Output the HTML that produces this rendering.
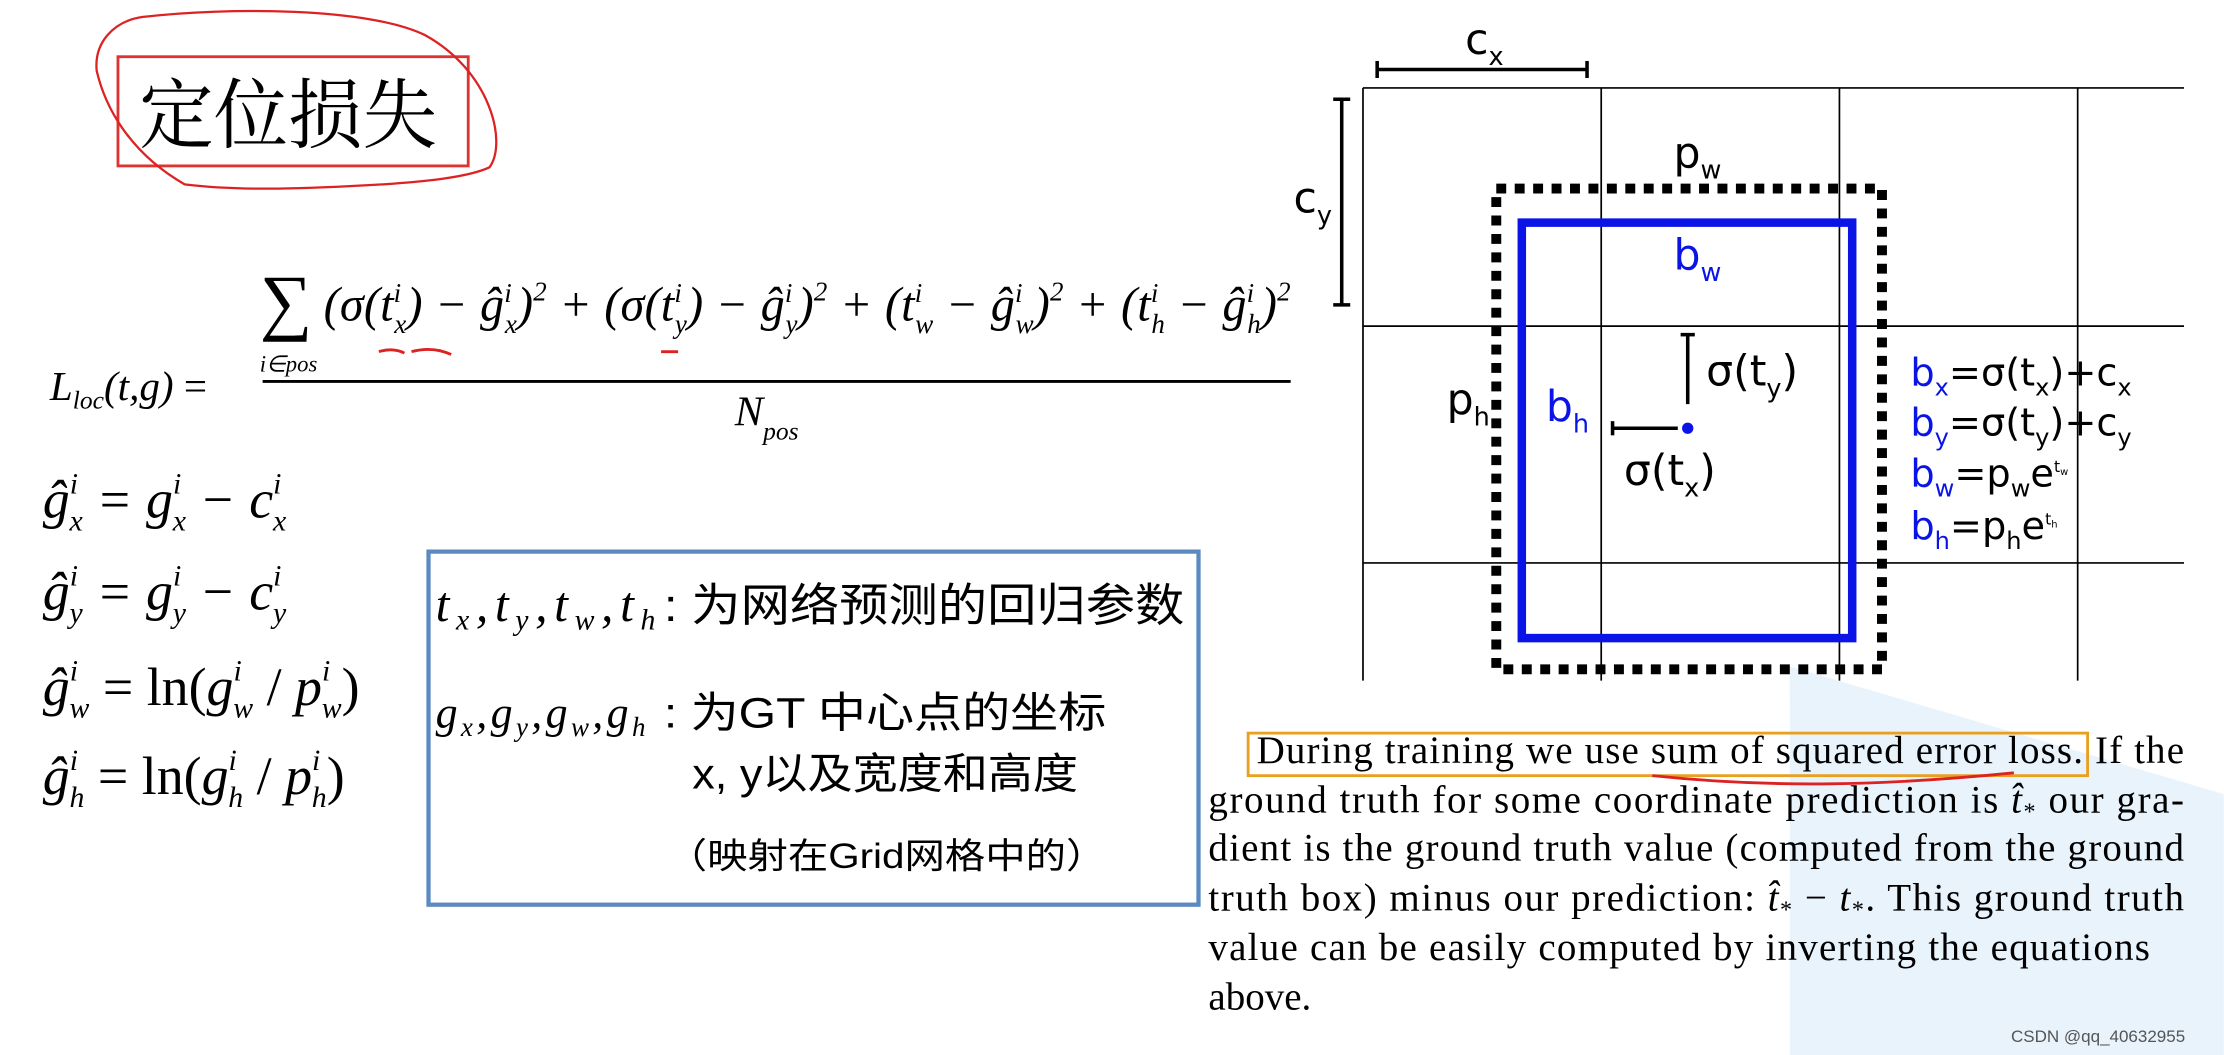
<!DOCTYPE html>
<html><head><meta charset="utf-8"><style>
html,body{margin:0;padding:0;background:#fff;width:2224px;height:1055px;overflow:hidden}
svg{display:block}
.m{font-family:"Liberation Serif",serif;font-style:italic}
.r{font-family:"Liberation Serif",serif}
.d{font-family:"DejaVu Sans",sans-serif}
.c{font-family:"Liberation Sans","Noto Sans CJK SC",sans-serif}
.cs{font-family:"Liberation Serif","Noto Serif CJK SC",serif}
</style></head><body>
<svg width="2224" height="1055" viewBox="0 0 1568 744" xmlns="http://www.w3.org/2000/svg">
<rect width="1568" height="744" fill="#fff"/>
<polygon points="1262,470 1568,560 1568,744 1262,744" fill="#e3f0fb" opacity="0.8"/>
<!-- title -->
<rect x="83" y="40" width="247" height="77" fill="none" stroke="#d33" stroke-width="2"/>
<text x="98" y="100" class="cs" font-size="54" textLength="210" lengthAdjust="spacingAndGlyphs" fill="#000">定位损失</text>
<path d="M100,12 C160,5 260,5 300,25 C345,50 358,100 345,118 C330,125 300,128 270,130 C220,133 170,135 130,130 C95,110 75,80 68,50 C66,30 80,15 100,12" fill="none" stroke="#d22" stroke-width="1.6"/>
<!-- main formula -->
<text x="183" y="230" class="r" font-size="52">∑</text>
<text x="183" y="262" class="m" font-size="16">i∈pos</text>
<text x="228" y="226" class="m" font-size="34" textLength="682" lengthAdjust="spacing">(σ(t<tspan font-size="19" dy="-13">i</tspan><tspan font-size="19" dx="-5" dy="22">x</tspan><tspan dy="-9">) − ĝ</tspan><tspan font-size="19" dy="-13">i</tspan><tspan font-size="19" dx="-5" dy="22">x</tspan><tspan dy="-9">)</tspan><tspan font-size="19" dy="-14" class="r">2</tspan><tspan dy="14"> + (σ(t</tspan><tspan font-size="19" dy="-13">i</tspan><tspan font-size="19" dx="-5" dy="22">y</tspan><tspan dy="-9">) − ĝ</tspan><tspan font-size="19" dy="-13">i</tspan><tspan font-size="19" dx="-5" dy="22">y</tspan><tspan dy="-9">)</tspan><tspan font-size="19" dy="-14" class="r">2</tspan><tspan dy="14"> + (t</tspan><tspan font-size="19" dy="-13">i</tspan><tspan font-size="19" dx="-5" dy="22">w</tspan><tspan dy="-9"> − ĝ</tspan><tspan font-size="19" dy="-13">i</tspan><tspan font-size="19" dx="-5" dy="22">w</tspan><tspan dy="-9">)</tspan><tspan font-size="19" dy="-14" class="r">2</tspan><tspan dy="14"> + (t</tspan><tspan font-size="19" dy="-13">i</tspan><tspan font-size="19" dx="-5" dy="22">h</tspan><tspan dy="-9"> − ĝ</tspan><tspan font-size="19" dy="-13">i</tspan><tspan font-size="19" dx="-5" dy="22">h</tspan><tspan dy="-9">)</tspan><tspan font-size="19" dy="-14" class="r">2</tspan></text>
<path d="M267,248 q10,-3 18,1 M290,248 q15,-4 28,2 M466,248 h12" stroke="#d22" stroke-width="2" fill="none"/>
<line x1="185" y1="269" x2="910" y2="269" stroke="#000" stroke-width="2"/>
<text x="35" y="282" class="m" font-size="29">L<tspan font-size="18" dy="6">loc</tspan><tspan dy="-6">(t,g) </tspan><tspan class="r" font-style="normal">=</tspan></text>
<text x="518" y="300" class="m" font-size="30">N<tspan font-size="18" dy="10">pos</tspan></text>
<!-- left equations -->
<g class="m" font-size="38">
<text x="30" y="365">ĝ<tspan font-size="21" dy="-17">i</tspan><tspan font-size="21" dx="-6" dy="26">x</tspan><tspan dy="-9" class="r"> = </tspan>g<tspan font-size="21" dy="-17">i</tspan><tspan font-size="21" dx="-6" dy="26">x</tspan><tspan dy="-9" class="r"> − </tspan>c<tspan font-size="21" dy="-17">i</tspan><tspan font-size="21" dx="-6" dy="26">x</tspan></text>
<text x="30" y="430">ĝ<tspan font-size="21" dy="-17">i</tspan><tspan font-size="21" dx="-6" dy="26">y</tspan><tspan dy="-9" class="r"> = </tspan>g<tspan font-size="21" dy="-17">i</tspan><tspan font-size="21" dx="-6" dy="26">y</tspan><tspan dy="-9" class="r"> − </tspan>c<tspan font-size="21" dy="-17">i</tspan><tspan font-size="21" dx="-6" dy="26">y</tspan></text>
<text x="30" y="497">ĝ<tspan font-size="21" dy="-17">i</tspan><tspan font-size="21" dx="-6" dy="26">w</tspan><tspan dy="-9" class="r" font-style="normal"> = ln(</tspan>g<tspan font-size="21" dy="-17">i</tspan><tspan font-size="21" dx="-6" dy="26">w</tspan><tspan dy="-9" class="r" font-style="normal"> / </tspan>p<tspan font-size="21" dy="-17">i</tspan><tspan font-size="21" dx="-6" dy="26">w</tspan><tspan dy="-9" class="r" font-style="normal">)</tspan></text>
<text x="30" y="560">ĝ<tspan font-size="21" dy="-17">i</tspan><tspan font-size="21" dx="-6" dy="26">h</tspan><tspan dy="-9" class="r" font-style="normal"> = ln(</tspan>g<tspan font-size="21" dy="-17">i</tspan><tspan font-size="21" dx="-6" dy="26">h</tspan><tspan dy="-9" class="r" font-style="normal"> / </tspan>p<tspan font-size="21" dy="-17">i</tspan><tspan font-size="21" dx="-6" dy="26">h</tspan><tspan dy="-9" class="r" font-style="normal">)</tspan></text>
</g>
<!-- blue box -->
<rect x="302" y="389" width="543" height="249" fill="none" stroke="#5b8ac0" stroke-width="3"/>
<text x="307" y="438" class="m" font-size="35" textLength="155" lengthAdjust="spacing">t<tspan font-size="21" dy="6">x</tspan><tspan dy="-6">,t</tspan><tspan font-size="21" dy="6">y</tspan><tspan dy="-6">,t</tspan><tspan font-size="21" dy="6">w</tspan><tspan dy="-6">,t</tspan><tspan font-size="21" dy="6">h</tspan></text>
<text x="468" y="438" class="c" font-size="32" textLength="367" lengthAdjust="spacingAndGlyphs">: 为网络预测的回归参数</text>
<text x="307" y="513" class="m" font-size="31" textLength="148" lengthAdjust="spacing">g<tspan font-size="19" dy="6">x</tspan><tspan dy="-6">,g</tspan><tspan font-size="19" dy="6">y</tspan><tspan dy="-6">,g</tspan><tspan font-size="19" dy="6">w</tspan><tspan dy="-6">,g</tspan><tspan font-size="19" dy="6">h</tspan></text>
<text x="468" y="513" class="c" font-size="30" textLength="312" lengthAdjust="spacingAndGlyphs">: 为GT 中心点的坐标</text>
<text x="488" y="556" class="c" font-size="30" textLength="272" lengthAdjust="spacingAndGlyphs">x, y以及宽度和高度</text>
<text x="470" y="612" class="c" font-size="25" textLength="310" lengthAdjust="spacingAndGlyphs">（映射在Grid网格中的）</text>
<!-- grid -->
<g stroke="#000" stroke-width="1.2">
<line x1="961" y1="62" x2="1540" y2="62"/><line x1="961" y1="230" x2="1540" y2="230"/><line x1="961" y1="397" x2="1540" y2="397"/>
<line x1="961" y1="62" x2="961" y2="480"/><line x1="1129" y1="62" x2="1129" y2="480"/><line x1="1297" y1="62" x2="1297" y2="480"/><line x1="1465" y1="62" x2="1465" y2="480"/>
</g>
<g stroke="#000" stroke-width="2.5">
<line x1="971" y1="49" x2="1119" y2="49"/><line x1="971" y1="43" x2="971" y2="55"/><line x1="1119" y1="43" x2="1119" y2="55"/>
<line x1="946" y1="70" x2="946" y2="215"/><line x1="940" y1="70" x2="952" y2="70"/><line x1="940" y1="215" x2="952" y2="215"/>
<line x1="1190" y1="236" x2="1190" y2="285"/><line x1="1185" y1="236" x2="1195" y2="236"/>
<line x1="1137" y1="302" x2="1183" y2="302"/><line x1="1137" y1="297" x2="1137" y2="307"/>
</g>
<rect x="1055" y="133" width="272" height="339" fill="none" stroke="#000" stroke-width="7" stroke-dasharray="7,6"/>
<rect x="1073" y="157" width="233" height="293" fill="none" stroke="#0a14e6" stroke-width="6"/>
<circle cx="1190" cy="302" r="4" fill="#0a14e6"/>
<g class="d" font-size="30">
<text x="1033" y="38">c<tspan font-size="18" dy="8">x</tspan></text>
<text x="912" y="150">c<tspan font-size="18" dy="8">y</tspan></text>
<text x="1180" y="118">p<tspan font-size="18" dy="8">w</tspan></text>
<text x="1180" y="190" fill="#0a14e6">b<tspan font-size="18" dy="8">w</tspan></text>
<text x="1020" y="292">p<tspan font-size="18" dy="8">h</tspan></text>
<text x="1090" y="297" fill="#0a14e6">b<tspan font-size="18" dy="8">h</tspan></text>
<text x="1203" y="272">σ(t<tspan font-size="18" dy="8">y</tspan><tspan dy="-8">)</tspan></text>
<text x="1145" y="342">σ(t<tspan font-size="18" dy="8">x</tspan><tspan dy="-8">)</tspan></text>
</g>
<g class="d" font-size="27">
<text x="1347" y="272"><tspan fill="#0a14e6">b</tspan><tspan fill="#0a14e6" font-size="17" dy="7">x</tspan><tspan dy="-7">=σ(t</tspan><tspan font-size="17" dy="7">x</tspan><tspan dy="-7">)+c</tspan><tspan font-size="17" dy="7">x</tspan></text>
<text x="1347" y="307"><tspan fill="#0a14e6">b</tspan><tspan fill="#0a14e6" font-size="17" dy="7">y</tspan><tspan dy="-7">=σ(t</tspan><tspan font-size="17" dy="7">y</tspan><tspan dy="-7">)+c</tspan><tspan font-size="17" dy="7">y</tspan></text>
<text x="1347" y="343"><tspan fill="#0a14e6">b</tspan><tspan fill="#0a14e6" font-size="17" dy="7">w</tspan><tspan dy="-7">=p</tspan><tspan font-size="17" dy="7">w</tspan><tspan dy="-7">e</tspan><tspan font-size="11" dy="-10">t</tspan><tspan font-size="7" dy="2">w</tspan></text>
<text x="1347" y="380"><tspan fill="#0a14e6">b</tspan><tspan fill="#0a14e6" font-size="17" dy="7">h</tspan><tspan dy="-7">=p</tspan><tspan font-size="17" dy="7">h</tspan><tspan dy="-7">e</tspan><tspan font-size="11" dy="-10">t</tspan><tspan font-size="7" dy="2">h</tspan></text>
</g>
<!-- paragraph -->
<rect x="880" y="517" width="592" height="30" fill="none" stroke="#e8a020" stroke-width="2"/>
<path d="M1165,547 C1250,556 1330,554 1420,545" stroke="#d22" stroke-width="2" fill="none"/>
<g class="r" font-size="27.5">
<text x="886" y="538" textLength="654" lengthAdjust="spacing">During training we use sum of squared error loss. If the</text>
<text x="852" y="573" textLength="688" lengthAdjust="spacing">ground truth for some coordinate prediction is <tspan font-style="italic">t̂</tspan><tspan font-size="17" dy="5">*</tspan><tspan dy="-5"> our gra-</tspan></text>
<text x="852" y="607" textLength="688" lengthAdjust="spacing">dient is the ground truth value (computed from the ground</text>
<text x="852" y="642" textLength="688" lengthAdjust="spacing">truth box) minus our prediction: <tspan font-style="italic">t̂</tspan><tspan font-size="17" dy="5">*</tspan><tspan dy="-5"> − </tspan><tspan font-style="italic">t</tspan><tspan font-size="17" dy="5">*</tspan><tspan dy="-5">. This ground truth</tspan></text>
<text x="852" y="677" textLength="664" lengthAdjust="spacing">value can be easily computed by inverting the equations</text>
<text x="852" y="712">above.</text>
</g>
<text x="1418" y="735" class="c" font-size="12" fill="#555">CSDN @qq_40632955</text>
</svg>
</body></html>
